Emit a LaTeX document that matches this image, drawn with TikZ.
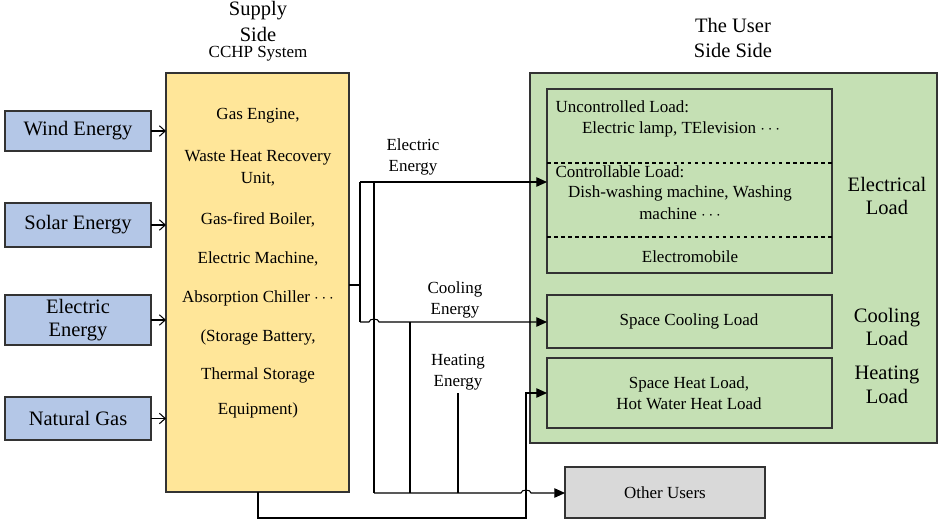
\documentclass[tikz,border=0pt]{standalone}
\usepackage{fontspec}
\setmainfont{Liberation Serif}
\usetikzlibrary{arrows.meta}
\definecolor{srcblue}{HTML}{B4C7E7}
\definecolor{cchp}{HTML}{FFE699}
\definecolor{usergreen}{HTML}{C5E0B4}
\definecolor{othergray}{HTML}{D9D9D9}
\begin{document}
\begin{tikzpicture}[x=0.03cm,y=-0.03cm,line width=0.9pt,
  box/.style={draw=black!80, line width=1pt, inner sep=0pt},
  big/.style={font=\fontsize{17.5}{20}\selectfont},
  txt/.style={font=\fontsize{14.5}{17.5}\selectfont, inner sep=0pt},
  lbl/.style={font=\fontsize{14.5}{18}\selectfont, inner sep=0pt, align=center},
  inarr/.style={-{Straight Barb[length=5pt,width=9pt]}},
  outarr/.style={-{Triangle[length=9pt,width=8pt]}}]
\useasboundingbox (0,0) rectangle (941,522);

% supply side
\node[lbl, font=\fontsize{17.5}{20}\selectfont] (sup1) at (258,11) {Supply};
\node[lbl, font=\fontsize{17.5}{20}\selectfont] (sup2) at (258,34) {Side};
\node[lbl] (cchpt) at (258,54) {CCHP System};
\draw[box, fill=cchp] (166,73) rectangle (349,492);
\coordinate (cchpR) at (349,285);
\coordinate (cchpB) at (258,492);
\foreach \t/\y [count=\i] in {{Gas Engine,}/116, {Waste Heat Recovery}/158, {Unit,}/179,
  {Gas-fired Boiler,}/220, {Electric Machine,}/259, {Absorption Chiller $\cdots$}/298,
  {(Storage Battery,}/337, {Thermal Storage}/375, {Equipment)}/410}
  \node[txt] (c\i) at (258,\y) {\t};

% sources
\foreach \n/\t/\a/\b in {wind/Wind Energy/111/151, solar/Solar Energy/203/247,
  elec/{Electric\\Energy}/295/345, gas/Natural Gas/397/440} {
  \draw[box, fill=srcblue] (5,\a) rectangle (151,\b);
  \node[big, align=center, inner sep=0pt] (\n) at (78,{(\a+\b)/2}) {\t};
  \coordinate (\n R) at (151,{(\a+\b)/2});
  \draw[inarr] (\n R) -- (166,{(\a+\b)/2});
}

% user side
\node[lbl, font=\fontsize{17.5}{20}\selectfont] (us1) at (733,25) {The User};
\node[lbl, font=\fontsize{17.5}{20}\selectfont] (us2) at (733,50) {Side Side};
\draw[box, fill=usergreen] (530,73) rectangle (937,443);
\draw[box] (547,89) rectangle (832,273);
\draw[dashed, line width=1pt] (547,163) -- (832,163) (547,237) -- (832,237);
\node[txt, anchor=west] (unc) at (555,107) {Uncontrolled Load:};
\node[txt] (lamp) at (681,129) {Electric lamp, TElevision $\cdots$};
\node[txt, anchor=west] (con) at (555,172) {Controllable Load:};
\node[txt] (dish) at (680,193) {Dish-washing machine, Washing};
\node[txt] (mach) at (680,214) {machine $\cdots$};
\node[txt] (emob) at (690,257) {Electromobile};
\node[big, align=center, inner sep=0pt] (eload) at (887,196) {Electrical\\Load};
\draw[box] (547,295) rectangle (832,348);
\node[txt] (scool) at (689,321) {Space Cooling Load};
\node[big, align=center, inner sep=0pt] (cload) at (887,327) {Cooling\\Load};
\draw[box] (547,358) rectangle (832,428);
\node[txt, align=center] (sheat) at (689,393) {Space Heat Load,\\Hot Water Heat Load};
\node[big, align=center, inner sep=0pt] (hload) at (887,385) {Heating\\Load};
\draw[box, fill=othergray] (565,467) rectangle (765,518);
\node[txt] (other) at (665,493) {Other Users};

% energy labels
\node[lbl] (eE) at (413,157) {Electric\\Energy};
\node[lbl] (cE) at (455,300) {Cooling\\Energy};
\node[lbl] (hE) at (458,372) {Heating\\Energy};

% connectors
\coordinate (j1) at (360,285);
\coordinate (j1t) at (360,182);
\coordinate (j1b) at (360,322);
\coordinate (eIn) at (547,182);
\coordinate (cIn) at (547,322);
\coordinate (hIn) at (547,393);
\coordinate (oIn) at (565,493);
\coordinate (v2t) at (374,182);
\coordinate (v2b) at (374,493);
\coordinate (v3t) at (410,322);
\coordinate (v3b) at (410,493);
\coordinate (v4t) at (458,393);
\coordinate (v4b) at (458,493);
\draw (cchpR) -- (j1);
\draw (j1b) -- (j1t);
\draw[outarr] (j1t) -- (eIn);
\draw[outarr] (j1b) -- (369,322) to[out=90,in=90] (379,322) -- (cIn);
\draw (v2t) -- (v2b);
\draw[outarr] (v2b) -- (521,493) to[out=90,in=90] (531,493) -- (oIn);
\draw (v3t) -- (v3b);
\draw (v4t) -- (v4b);
\draw[outarr] (cchpB) |- (526,518) |- (hIn);
\end{tikzpicture}
\end{document}
